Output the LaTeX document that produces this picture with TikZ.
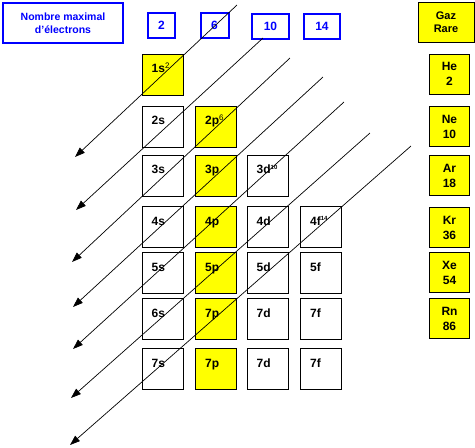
\documentclass[tikz,border=0pt]{standalone}
\usepackage{fontspec}
\setmainfont{Liberation Sans}
\usetikzlibrary{arrows.meta}
\definecolor{ybox}{RGB}{255,255,0}
\definecolor{bbox}{RGB}{0,0,255}
\newcommand{\ex}[1]{\textsuperscript{\normalfont\fontsize{8}{8}\selectfont #1}}
\newcommand{\exs}[1]{\textsuperscript{\bfseries\fontsize{6}{6}\selectfont #1}}
\begin{document}
\begin{tikzpicture}[x=1pt,y=-1pt,
  cell/.style={draw=black,line width=1pt,minimum width=41pt,minimum height=41pt,inner sep=0pt,anchor=north west,fill=white},
  yel/.style={cell,fill=ybox},
  lab/.style={anchor=base west,inner sep=0pt,font=\bfseries\fontsize{12}{12}\selectfont,xshift=10pt,yshift=-19pt,label distance=0pt},
  bluebox/.style={draw=bbox,line width=2pt,inner sep=0pt,anchor=north west,text=bbox,font=\bfseries\fontsize{12}{12}\selectfont,minimum height=25pt},
  gas/.style={draw=black,line width=1pt,fill=ybox,inner sep=0pt,anchor=north west,minimum width=40pt,minimum height=40pt,align=center,font=\bfseries\fontsize{12}{15}\selectfont},
  arr/.style={-{Triangle[length=10pt,width=7pt]},line width=0.7pt,black}
]
\useasboundingbox (0,0) rectangle (475,448);
% header
\node[bluebox,minimum width=120pt,minimum height=40pt,align=center,font=\bfseries\fontsize{10.5}{12.5}\selectfont] (hdr) at (2,2) {Nombre maximal\\d'électrons};
\node[bluebox,minimum width=27pt] (n2) at (147,12) {2};
\node[bluebox,minimum width=28pt] (n6) at (199.5,12) {6};
\node[bluebox,minimum width=37pt] (n10) at (251,13) {10};
\node[bluebox,minimum width=36pt] (n14) at (303,13) {14};
% noble gases
\node[gas,minimum width=56pt,minimum height=40pt,font=\bfseries\fontsize{11}{12.5}\selectfont] (gaz) at (417.5,1.5) {Gaz\\Rare};
\node[gas] (he) at (429,53.5) {He\\2};
\node[gas] (ne) at (429,106) {Ne\\10};
\node[gas] (ar) at (429,155) {Ar\\18};
\node[gas] (kr) at (429,207) {Kr\\36};
\node[gas] (xe) at (429,252) {Xe\\54};
\node[gas] (rn) at (429,298) {Rn\\86};
% grid
\node[yel,label={[lab]north west:1s\ex{2}}] (s1) at (141.5,53.5) {};
\node[cell,label={[lab]north west:2s}] (s2) at (141.5,105.5) {};
\node[yel,label={[lab]north west:2p\ex{6}}] (p2) at (195,105.5) {};
\node[cell,label={[lab]north west:3s}] (s3) at (141.5,154.5) {};
\node[yel,label={[lab]north west:3p}] (p3) at (195,154.5) {};
\node[cell,label={[lab]north west:3d\exs{10}}] (d3) at (246.5,154.5) {};
\node[cell,label={[lab]north west:4s}] (s4) at (141.5,206) {};
\node[yel,label={[lab]north west:4p}] (p4) at (195,206) {};
\node[cell,label={[lab]north west:4d}] (d4) at (246.5,206) {};
\node[cell,label={[lab]north west:4f\exs{14}}] (f4) at (300,206) {};
\node[cell,label={[lab]north west:5s}] (s5) at (141.5,252) {};
\node[yel,label={[lab]north west:5p}] (p5) at (195,252) {};
\node[cell,label={[lab]north west:5d}] (d5) at (246.5,252) {};
\node[cell,label={[lab]north west:5f}] (f5) at (300,252) {};
\node[cell,label={[lab]north west:6s}] (s6) at (141.5,298) {};
\node[yel,label={[lab]north west:7p}] (p6) at (195,298) {};
\node[cell,label={[lab]north west:7d}] (d6) at (246.5,298) {};
\node[cell,label={[lab]north west:7f}] (f6) at (300,298) {};
\node[cell,label={[lab]north west:7s}] (s7) at (141.5,348) {};
\node[yel,label={[lab]north west:7p}] (p7) at (195,348) {};
\node[cell,label={[lab]north west:7d}] (d7) at (246.5,348) {};
\node[cell,label={[lab]north west:7f}] (f7) at (300,348) {};
% arrows
\coordinate (a1) at (237,5);   \coordinate (b1) at (75,157);
\coordinate (a2) at (263,38);  \coordinate (b2) at (76,210);
\coordinate (a3) at (290,58);  \coordinate (b3) at (72,262);
\coordinate (a4) at (323,77);  \coordinate (b4) at (73,307);
\coordinate (a5) at (344,102); \coordinate (b5) at (73,349);
\coordinate (a6) at (370,133); \coordinate (b6) at (71,398);
\coordinate (a7) at (411,146); \coordinate (b7) at (70,445);
\foreach \i in {1,...,7} { \draw[arr] (a\i) -- (b\i); }
\end{tikzpicture}
\end{document}
